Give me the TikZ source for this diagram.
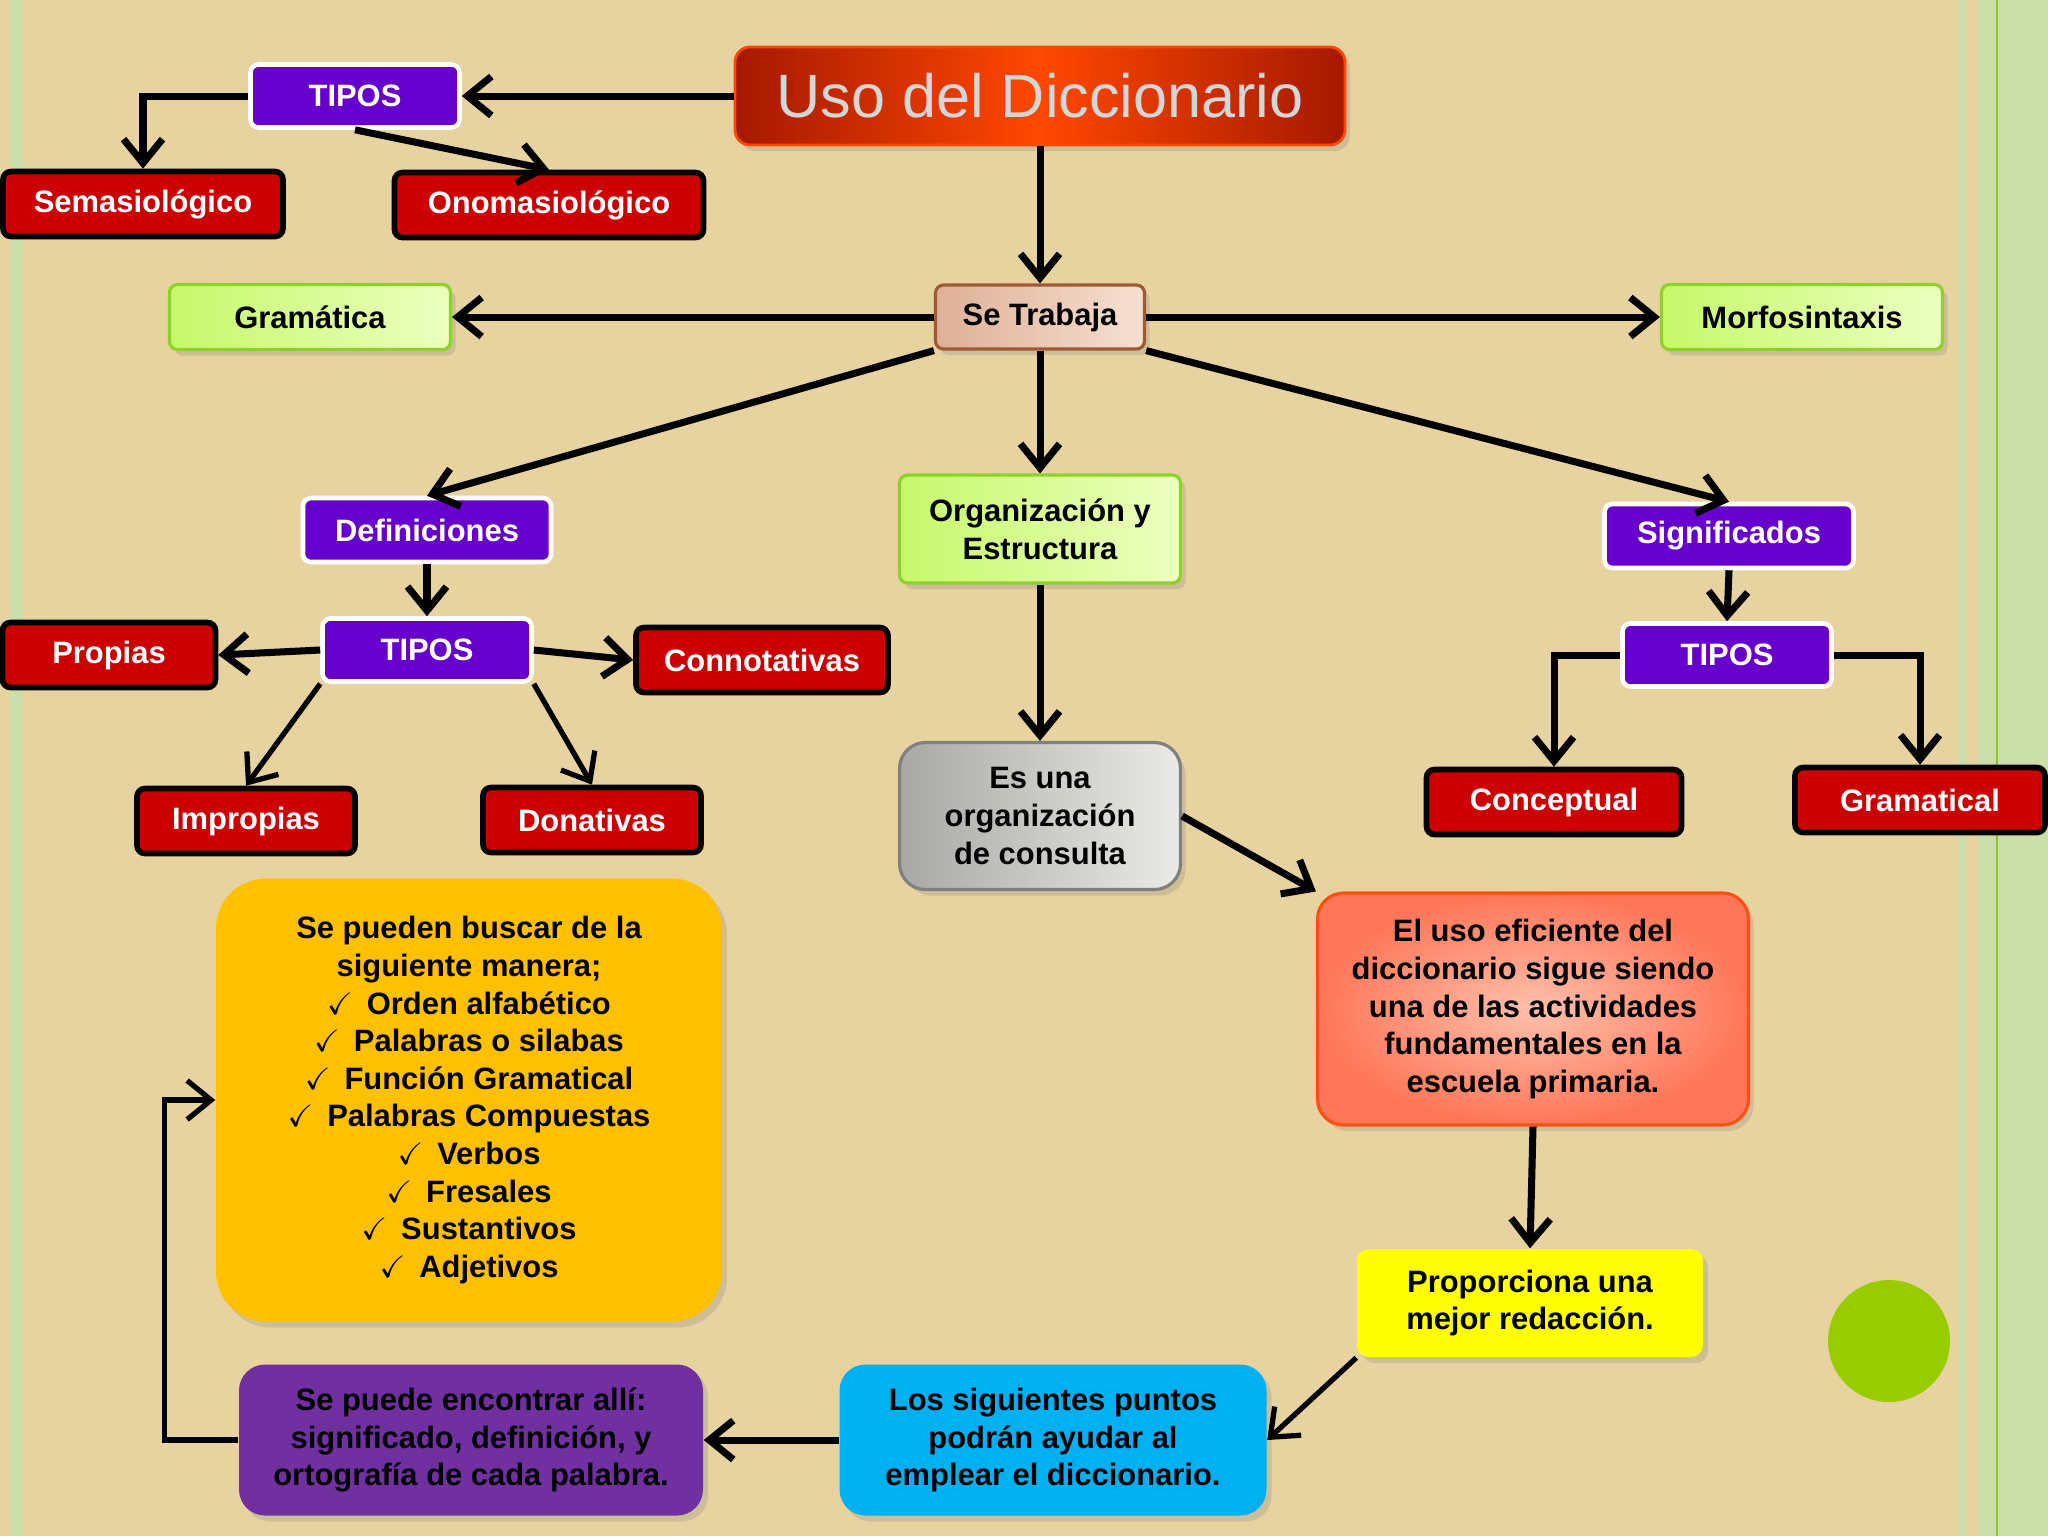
\documentclass[tikz,border=0pt]{standalone}
\usepackage{amssymb}
\usepackage{fontspec}
\setmainfont{Liberation Sans}
\usetikzlibrary{arrows.meta,shadows}

\definecolor{fondo}{RGB}{231,211,160}
\definecolor{banda}{RGB}{204,222,170}
\definecolor{bandalinea}{RGB}{140,200,30}
\definecolor{morado}{RGB}{102,0,204}
\definecolor{rojo}{RGB}{204,0,0}
\definecolor{verdeA}{RGB}{198,248,106}
\definecolor{verdeB}{RGB}{236,255,192}
\definecolor{verdeborde}{RGB}{140,210,40}
\definecolor{rosaA}{RGB}{222,176,150}
\definecolor{rosaB}{RGB}{246,224,210}
\definecolor{cafe}{RGB}{160,90,50}
\definecolor{grisA}{RGB}{168,168,166}
\definecolor{grisB}{RGB}{234,234,230}
\definecolor{salmonA}{RGB}{255,118,88}
\definecolor{salmonB}{RGB}{255,192,172}
\definecolor{salmonborde}{RGB}{255,80,20}
\definecolor{amarillo}{RGB}{255,255,0}
\definecolor{ambar}{RGB}{255,192,0}
\definecolor{azul}{RGB}{0,176,240}
\definecolor{violeta}{RGB}{112,48,160}
\definecolor{rojoosc}{RGB}{165,25,0}
\definecolor{naranja}{RGB}{255,72,0}
\definecolor{lima}{RGB}{153,204,0}

\newcommand{\marca}{$\checkmark$\hspace{1.4mm}}

\tikzset{
  caja/.style={rounded corners=0.8mm, align=center, inner sep=0.8mm,
    font=\fontsize{8.8}{10.7}\selectfont\bfseries},
  sombra/.style={drop shadow={opacity=0.25,shadow xshift=0.5mm,shadow yshift=-0.6mm}},
  tipo/.style={caja, fill=morado, draw=white, line width=1.3pt, text=white,
    minimum width=20.9mm, minimum height=6.3mm},
  hoja/.style={caja, fill=rojo, draw=black, line width=1.6pt, text=white,
    minimum height=6.5mm},
  tema/.style={caja, sombra, draw=verdeborde, line width=0.9pt, left color=verdeA,
    right color=verdeB, minimum width=28.1mm, minimum height=6.5mm},
  bloque/.style={caja, sombra, rounded corners=2.6mm},
  flecha/.style={line width=2pt, -{Straight Barb[length=2.4mm,width=3.9mm]}},
  flechafina/.style={flecha, line width=1.5pt},
}

\begin{document}
\begin{tikzpicture}[x=0.1mm,y=-0.1mm]
  \useasboundingbox (0,0) rectangle (2048,1536);
  \fill[fondo] (0,0) rectangle (2048,1536); % fondo
  \fill[banda] (10,0) rectangle (23,1536); % franja izquierda
  \fill[banda] (1958,0) rectangle (1966,1536); % franja derecha angosta
  \fill[banda] (1978,0) rectangle (2048,1536); % franja derecha
  \draw[bandalinea, line width=0.8pt] (1997,0) -- (1997,1536);

  % titulo y primer nivel
  \node[caja, sombra, rounded corners=1.5mm, draw=naranja, line width=0.8pt,
    left color=rojoosc, right color=rojoosc, middle color=naranja,
    minimum width=61mm, minimum height=9.8mm, text=white!84!black,
    font=\fontsize{17.4}{20}\selectfont] (titulo) at (1040,96) {Uso del Diccionario};
  \node[tipo] (tiposA) at (355,96) {TIPOS};
  \node[hoja, minimum width=28mm] (semas) at (143,204) {Semasiológico};
  \node[hoja, minimum width=30.9mm] (onoma) at (549,205) {Onomasiológico};
  \node[tema] (gram) at (310,317) {Gramática};
  \node[caja, sombra, draw=cafe, line width=0.9pt, left color=rosaA, right color=rosaB,
    minimum width=20.9mm, minimum height=6.4mm] (trabaja) at (1040,317) {Se Trabaja};
  \node[tema] (morfo) at (1802,317) {Morfosintaxis};

  % rama de definiciones
  \node[tipo, minimum width=24.8mm, minimum height=6.4mm] (defin) at (427,530) {Definiciones};
  \node[tipo] (tiposB) at (427,650) {TIPOS};
  \node[hoja, minimum width=21.3mm] (propias) at (109,655) {Propias};
  \node[hoja, minimum width=25.2mm] (connot) at (762,660) {Connotativas};
  \node[hoja, minimum width=21.8mm] (impropias) at (246,821) {Impropias};
  \node[hoja, minimum width=21.8mm] (donat) at (592,820) {Donativas};

  % rama central
  \node[tema, minimum height=10.8mm] (organiz) at (1040,529) {Organización y\\Estructura};
  \node[bloque, draw=gray, line width=0.9pt, left color=grisA, right color=grisB,
    minimum width=28.1mm, minimum height=14.7mm] (esuna) at (1040,816)
    {Es una\\organización\\de consulta};

  % rama de significados
  \node[tipo, minimum width=24.9mm, minimum height=6.4mm] (signif) at (1729,536) {Significados};
  \node[tipo] (tiposC) at (1727,655) {TIPOS};
  \node[hoja, minimum width=25.5mm] (concep) at (1554,802) {Conceptual};
  \node[hoja, minimum width=25mm] (gramat) at (1920,800) {Gramatical};

  % ciclo inferior
  \node[bloque, draw=salmonborde, line width=0.9pt, inner color=salmonB, outer color=salmonA,
    minimum width=43.1mm, minimum height=23.2mm] (eluso) at (1533,1009)
    {El uso eficiente del\\diccionario sigue siendo\\una de las actividades\\fundamentales en la\\escuela primaria.};
  \node[bloque, rounded corners=1.2mm, fill=amarillo, minimum width=34.6mm,
    minimum height=10.8mm] (propor) at (1530,1303) {Proporciona una\\mejor redacción.};
  \node[bloque, fill=azul, minimum width=42.7mm, minimum height=15.1mm] (lossig) at (1053,1440)
    {Los siguientes puntos\\podrán ayudar al\\emplear el diccionario.};
  \node[bloque, fill=violeta, minimum width=46.4mm, minimum height=15.1mm] (sepuede) at (471,1440)
    {Se puede encontrar allí:\\significado, definición, y\\ortografía de cada palabra.};
  \node[bloque, rounded corners=5mm, fill=ambar, minimum width=50.6mm,
    minimum height=44.3mm] (buscar) at (469,1100)
    {Se pueden buscar de la\\siguiente manera;\\\marca Orden alfabético\\\marca Palabras o silabas\\
     \marca Función Gramatical\\\marca Palabras Compuestas\\\marca Verbos\\\marca Fresales\\
     \marca Sustantivos\\\marca Adjetivos};
  \fill[lima] (1889,1341) circle (6.1mm); % circulo decorativo

  % conectores
  \draw[flecha] (titulo.west) -- (tiposA.east);
  \draw[flecha] (tiposA.west) -| (semas.north);
  \draw[flecha] (tiposA.south) -- (onoma.north);
  \draw[flecha] (titulo.south) -- (trabaja.north);
  \draw[flecha] (trabaja.west) -- (gram.east);
  \draw[flecha] (trabaja.east) -- (morfo.west);
  \draw[flecha] (trabaja.south west) -- (defin.north);
  \draw[flecha] (trabaja.south) -- (organiz.north);
  \draw[flecha] (trabaja.south east) -- (signif.north);
  \draw[flecha] (defin.south) -- (tiposB.north);
  \draw[flecha] (tiposB.west) -- (propias.east);
  \draw[flecha] (tiposB.east) -- (connot.west);
  \draw[flechafina] (tiposB.south west) -- (impropias.north);
  \draw[flechafina] (tiposB.south east) -- (donat.north);
  \draw[flecha] (signif.south) -- (tiposC.north);
  \draw[flecha] (tiposC.west) -| (concep.north);
  \draw[flecha] (tiposC.east) -| (gramat.north);
  \draw[flecha] (organiz.south) -- (esuna.north);
  \draw[flecha] (esuna.east) -- (eluso.north west);
  \draw[flecha] (eluso.south) -- (propor.north);
  \draw[flechafina] (propor.south west) -- (lossig.east);
  \draw[flecha] (lossig.west) -- (sepuede.east);
  \draw[flechafina] (sepuede.west) -- ++(-74,0) |- (buscar.west); % vuelve al cuadro amarillo
\end{tikzpicture}
\end{document}
